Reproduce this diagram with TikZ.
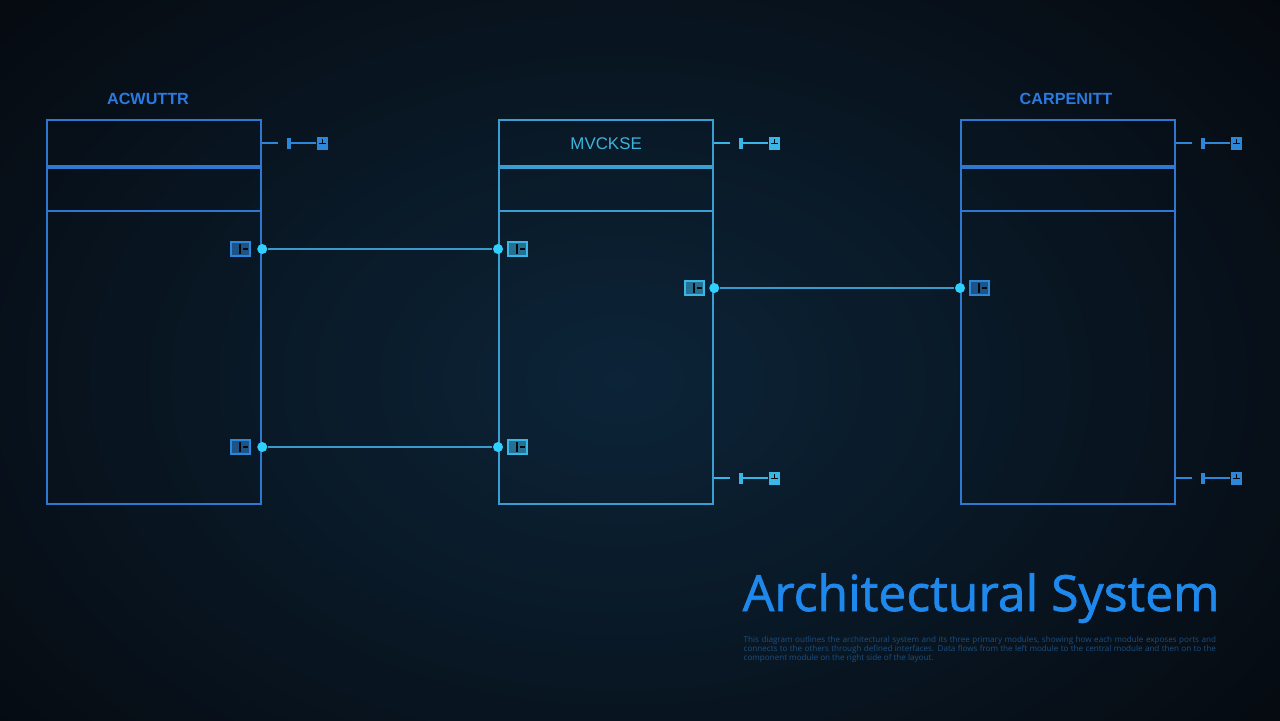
\documentclass[tikz,border=0pt]{standalone}
\usepackage{fontspec}
\setmainfont{Open Sans}
\newfontfamily\boxfont{Liberation Sans}
\newfontfamily\titlefont[FakeBold=1.3]{Open Sans}
\usetikzlibrary{calc}
\definecolor{bgout}{HTML}{05080D}
\definecolor{bgin}{HTML}{0C2438}
\definecolor{boxblue}{HTML}{2E78D2}
\definecolor{boxcyan}{HTML}{3A9ED2}
\definecolor{wire}{HTML}{3A9ACB}
\definecolor{dotc}{HTML}{2ED0FF}
\definecolor{iconc}{HTML}{3AB6E6}
\definecolor{iconb}{HTML}{2E86D8}
\definecolor{titlec}{HTML}{1E88EC}
\definecolor{labc}{HTML}{2B7AE0}
\definecolor{midlab}{HTML}{3DB4DC}
\definecolor{smallc}{HTML}{1B4F82}
\begin{document}
\begin{tikzpicture}[x=0.01cm,y=-0.01cm,
  blk/.style={draw=#1, line width=0.6pt, rectangle, anchor=north west,
    minimum width=2.14cm, minimum height=3.84cm, inner sep=0pt},
  divider/.style={draw=#1, line width=0.6pt},
  wireline/.style={draw=wire, line width=0.6pt},
  dotn/.style={circle, fill=dotc, inner sep=0pt, minimum size=0.1cm},
  boxtitle/.style={text=labc, font=\boxfont\bfseries\fontsize{4.6}{5}\selectfont, inner sep=0pt},
  stubline/.style={draw=#1, line width=0.6pt},
  pics/stub/.style={code={
    \draw[stubline=#1] (0,0) -- (16,0);
    \fill[#1] (25,-5) rectangle (29,6);
    \draw[stubline=#1] (29,0) -- (54,0);
    \fill[#1] (55,-6) rectangle (66,7);
    \draw[bgout, line width=0.35pt] (57,0.5) -- (64,0.5);
    \draw[bgout, line width=0.35pt] (60,-4) -- (60,0.5);
  }},
  pics/porticon/.style={code={
    \fill[#1, opacity=0.55] (0,-7) rectangle (19,7);
    \draw[#1, line width=0.6pt] (0,-7) rectangle (19,7);
    \draw[bgout, line width=0.5pt] (9,-5) -- (9,5);
    \draw[bgout, line width=0.4pt] (12,0) -- (17,0);
  }}
]
% background
\fill[bgout] (0,0) rectangle (1280,720);
\begin{scope}
  \clip (0,0) rectangle (1280,720);
  \shade[inner color=bgin, outer color=bgout] (620,380) ellipse [x radius=900, y radius=620];
\end{scope}
\useasboundingbox (0,0) rectangle (1280,720);

% boxes
\node[blk=boxblue] (b1) at (46,119) {};
\node[blk=boxcyan] (b2) at (498,119) {};
\node[blk=boxblue] (b3) at (960,119) {};
\foreach \b/\c in {b1/boxblue,b2/boxcyan,b3/boxblue}{
  \draw[divider=\c, line width=0.9pt] ($(\b.north west)+(0,48)$) -- ($(\b.north east)+(0,48)$);
  \draw[divider=\c] ($(\b.north west)+(0,92)$) -- ($(\b.north east)+(0,92)$);
}

% titles
\node[boxtitle] (t1) at (148,99) {ACWUTTR};
\node[boxtitle] (t3) at (1066,99) {CARPENITT};
\node[text=midlab, font=\boxfont\fontsize{4.8}{5}\selectfont, inner sep=0pt] (t2) at ($(b2.north)+(0,25)$) {MVCKSE};

% ports (dots on borders)
\node[dotn] (p1a) at (b1.east |- 0,249) {};
\node[dotn] (p2a) at (b2.west |- 0,249) {};
\node[dotn] (p1b) at (b1.east |- 0,447) {};
\node[dotn] (p2b) at (b2.west |- 0,447) {};
\node[dotn] (p2c) at (b2.east |- 0,288) {};
\node[dotn] (p3c) at (b3.west |- 0,288) {};

% connectors
\draw[wireline] (p1a) -- (p2a);
\draw[wireline] (p1b) -- (p2b);
\draw[wireline] (p2c) -- (p3c);

% port icons
\pic at (231,249) {porticon=iconb};
\pic at (231,447) {porticon=iconb};
\pic at (508,249) {porticon=iconc};
\pic at (508,447) {porticon=iconc};
\pic at (685,288) {porticon=iconc};
\pic at (970,288) {porticon=iconb};

% stubs
\pic at (b1.east |- 0,143) {stub=iconb};
\pic at (b2.east |- 0,143) {stub=iconc};
\pic at (b3.east |- 0,143) {stub=iconb};
\pic at (b2.east |- 0,478) {stub=iconc};
\pic at (b3.east |- 0,478) {stub=iconb};

% main title
\node[anchor=base west, inner sep=0pt, text=titlec,
  font=\titlefont\fontsize{14.2}{15}\selectfont] (title) at (742,611) {Architectural System};
\node[anchor=north west, inner sep=0pt, text=smallc, align=justify,
  text width=4.72cm, font=\fontsize{2.3}{2.56}\selectfont] (desc) at (743,636)
  {This diagram outlines the architectural system and its three primary modules, showing how each module exposes ports and connects to the others through defined interfaces. Data flows from the left module to the central module and then on to the component module on the right side of the layout.};
\end{tikzpicture}
\end{document}
